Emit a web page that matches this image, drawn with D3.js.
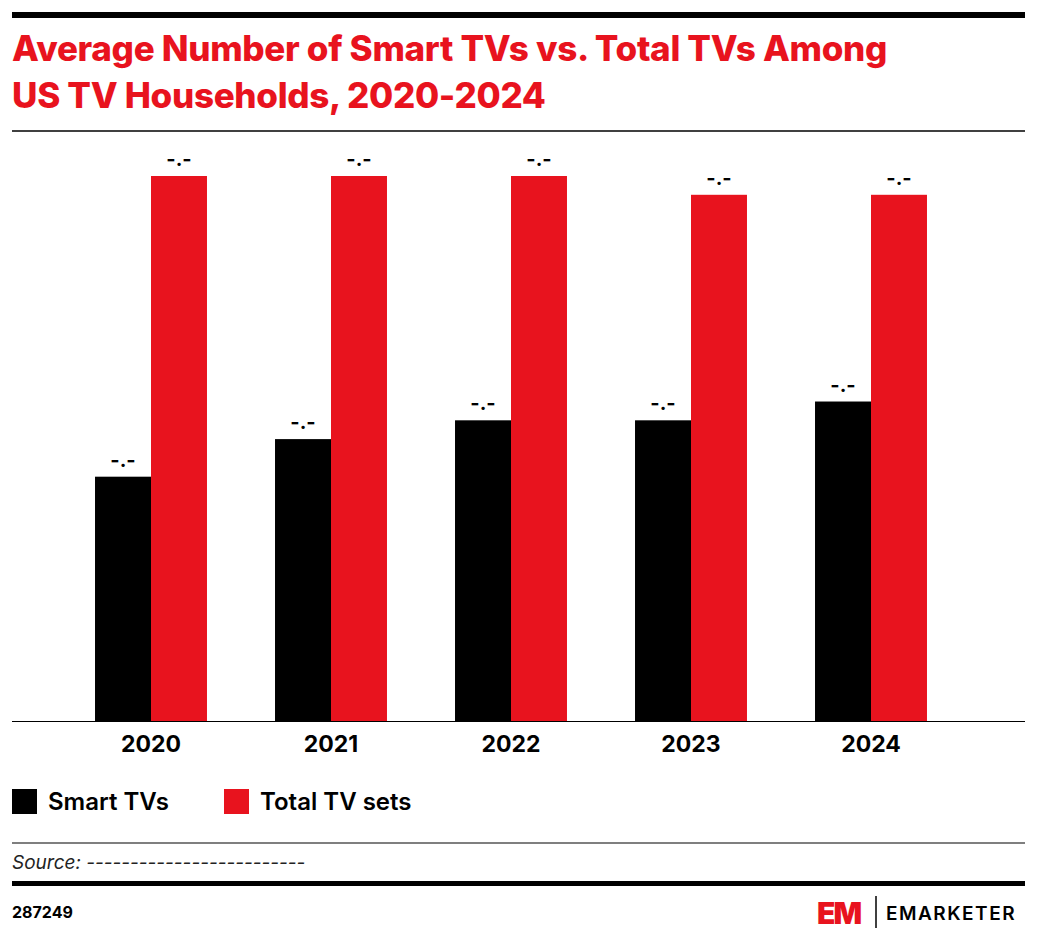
<!DOCTYPE html>
<html><head><meta charset="utf-8">
<script src="https://cdn.jsdelivr.net/npm/d3@7"></script>
<style>body{margin:0;background:#fff;font-family:Inter,"Open Sans",sans-serif}</style>
</head><body><svg id="c" width="1038" height="942"></svg>
<script>
const categories = ["2020","2021","2022","2023","2024"];
const seriesNames = ["Smart TVs","Total TV sets"];
const smartTVs = [1.3,1.5,1.6,1.6,1.7];
const totalTVs = [2.9,2.9,2.9,2.8,2.8];
const valueLabels = ["-.-","-.-","-.-","-.-","-.-"];
const colors = ["#000000","#e8131e"];

const svg = d3.select("#c");
const L=12,R=1025;
svg.append("rect").attr("x",L).attr("y",12).attr("width",R-L).attr("height",6).attr("fill","#000");
svg.append("text").attr("x",L).attr("y",61).attr("fill","#e8131e").attr("font-size",35).attr("font-weight",800).attr("letter-spacing",-0.3).text("Average Number of Smart TVs vs. Total TVs Among");
svg.append("text").attr("x",L).attr("y",108).attr("fill","#e8131e").attr("font-size",35).attr("font-weight",800).attr("letter-spacing",-0.3).text("US TV Households, 2020-2024");
svg.append("line").attr("x1",L).attr("x2",R).attr("y1",131).attr("y2",131).attr("stroke","#000").attr("stroke-width",1.5);

const x = d3.scaleBand().domain(categories).range([61,961]).paddingInner(0.378).paddingOuter(0.189);
const xs = d3.scaleBand().domain(seriesNames).range([0,x.bandwidth()]);
const y = d3.scaleLinear().domain([0,2.9]).range([721,176]);
const data = [smartTVs,totalTVs];
data.forEach((vals,si)=>{
  const g=svg.append("g");
  g.selectAll("rect").data(vals).join("rect")
   .attr("x",(d,i)=>x(categories[i])+xs(seriesNames[si]))
   .attr("y",d=>y(d)).attr("width",xs.bandwidth()).attr("height",d=>y(0)-y(d))
   .attr("fill",colors[si]);
  g.selectAll("text").data(vals).join("text")
   .attr("x",(d,i)=>x(categories[i])+xs(seriesNames[si])+xs.bandwidth()/2)
   .attr("y",d=>y(d)-10).attr("text-anchor","middle").attr("font-size",20).attr("font-weight",700)
   .text((d,i)=>valueLabels[i]);
});
svg.append("line").attr("x1",L).attr("x2",R).attr("y1",721.5).attr("y2",721.5).attr("stroke","#000").attr("stroke-width",1.2);
const ax = svg.append("g").attr("transform","translate(0,722)").call(d3.axisBottom(x).tickSize(0).tickPadding(14));
ax.select(".domain").remove();
ax.selectAll("text").attr("font-size",23).attr("font-weight",700).attr("fill","#000").attr("font-family","Inter,sans-serif");

const lg=[{x:L,n:0},{x:224,n:1}];
lg.forEach(o=>{
  svg.append("rect").attr("x",o.x).attr("y",789).attr("width",25).attr("height",25).attr("fill",colors[o.n]);
  svg.append("text").attr("x",o.x+36).attr("y",810).attr("font-size",24).attr("font-weight",600).text(seriesNames[o.n]);
});
svg.append("line").attr("x1",L).attr("x2",R).attr("y1",843).attr("y2",843).attr("stroke","#000").attr("stroke-width",1.2);
svg.append("text").attr("x",L).attr("y",869).attr("font-size",19).attr("font-style","italic").attr("fill","#222").text("Source: -------------------------");
svg.append("rect").attr("x",L).attr("y",881).attr("width",R-L).attr("height",5).attr("fill","#000");
svg.append("text").attr("x",L).attr("y",918).attr("font-size",16).attr("font-weight",700).text("287249");
svg.append("text").attr("x",817).attr("y",924).attr("font-size",30).attr("font-weight",900).attr("fill","#e8131e").attr("letter-spacing",-2).text("EM");
svg.append("line").attr("x1",876).attr("x2",876).attr("y1",896).attr("y2",928).attr("stroke","#000").attr("stroke-width",1.5);
svg.append("text").attr("x",886).attr("y",920).attr("font-size",19).attr("font-weight",600).attr("letter-spacing",1.5).text("EMARKETER");
</script></body></html>
